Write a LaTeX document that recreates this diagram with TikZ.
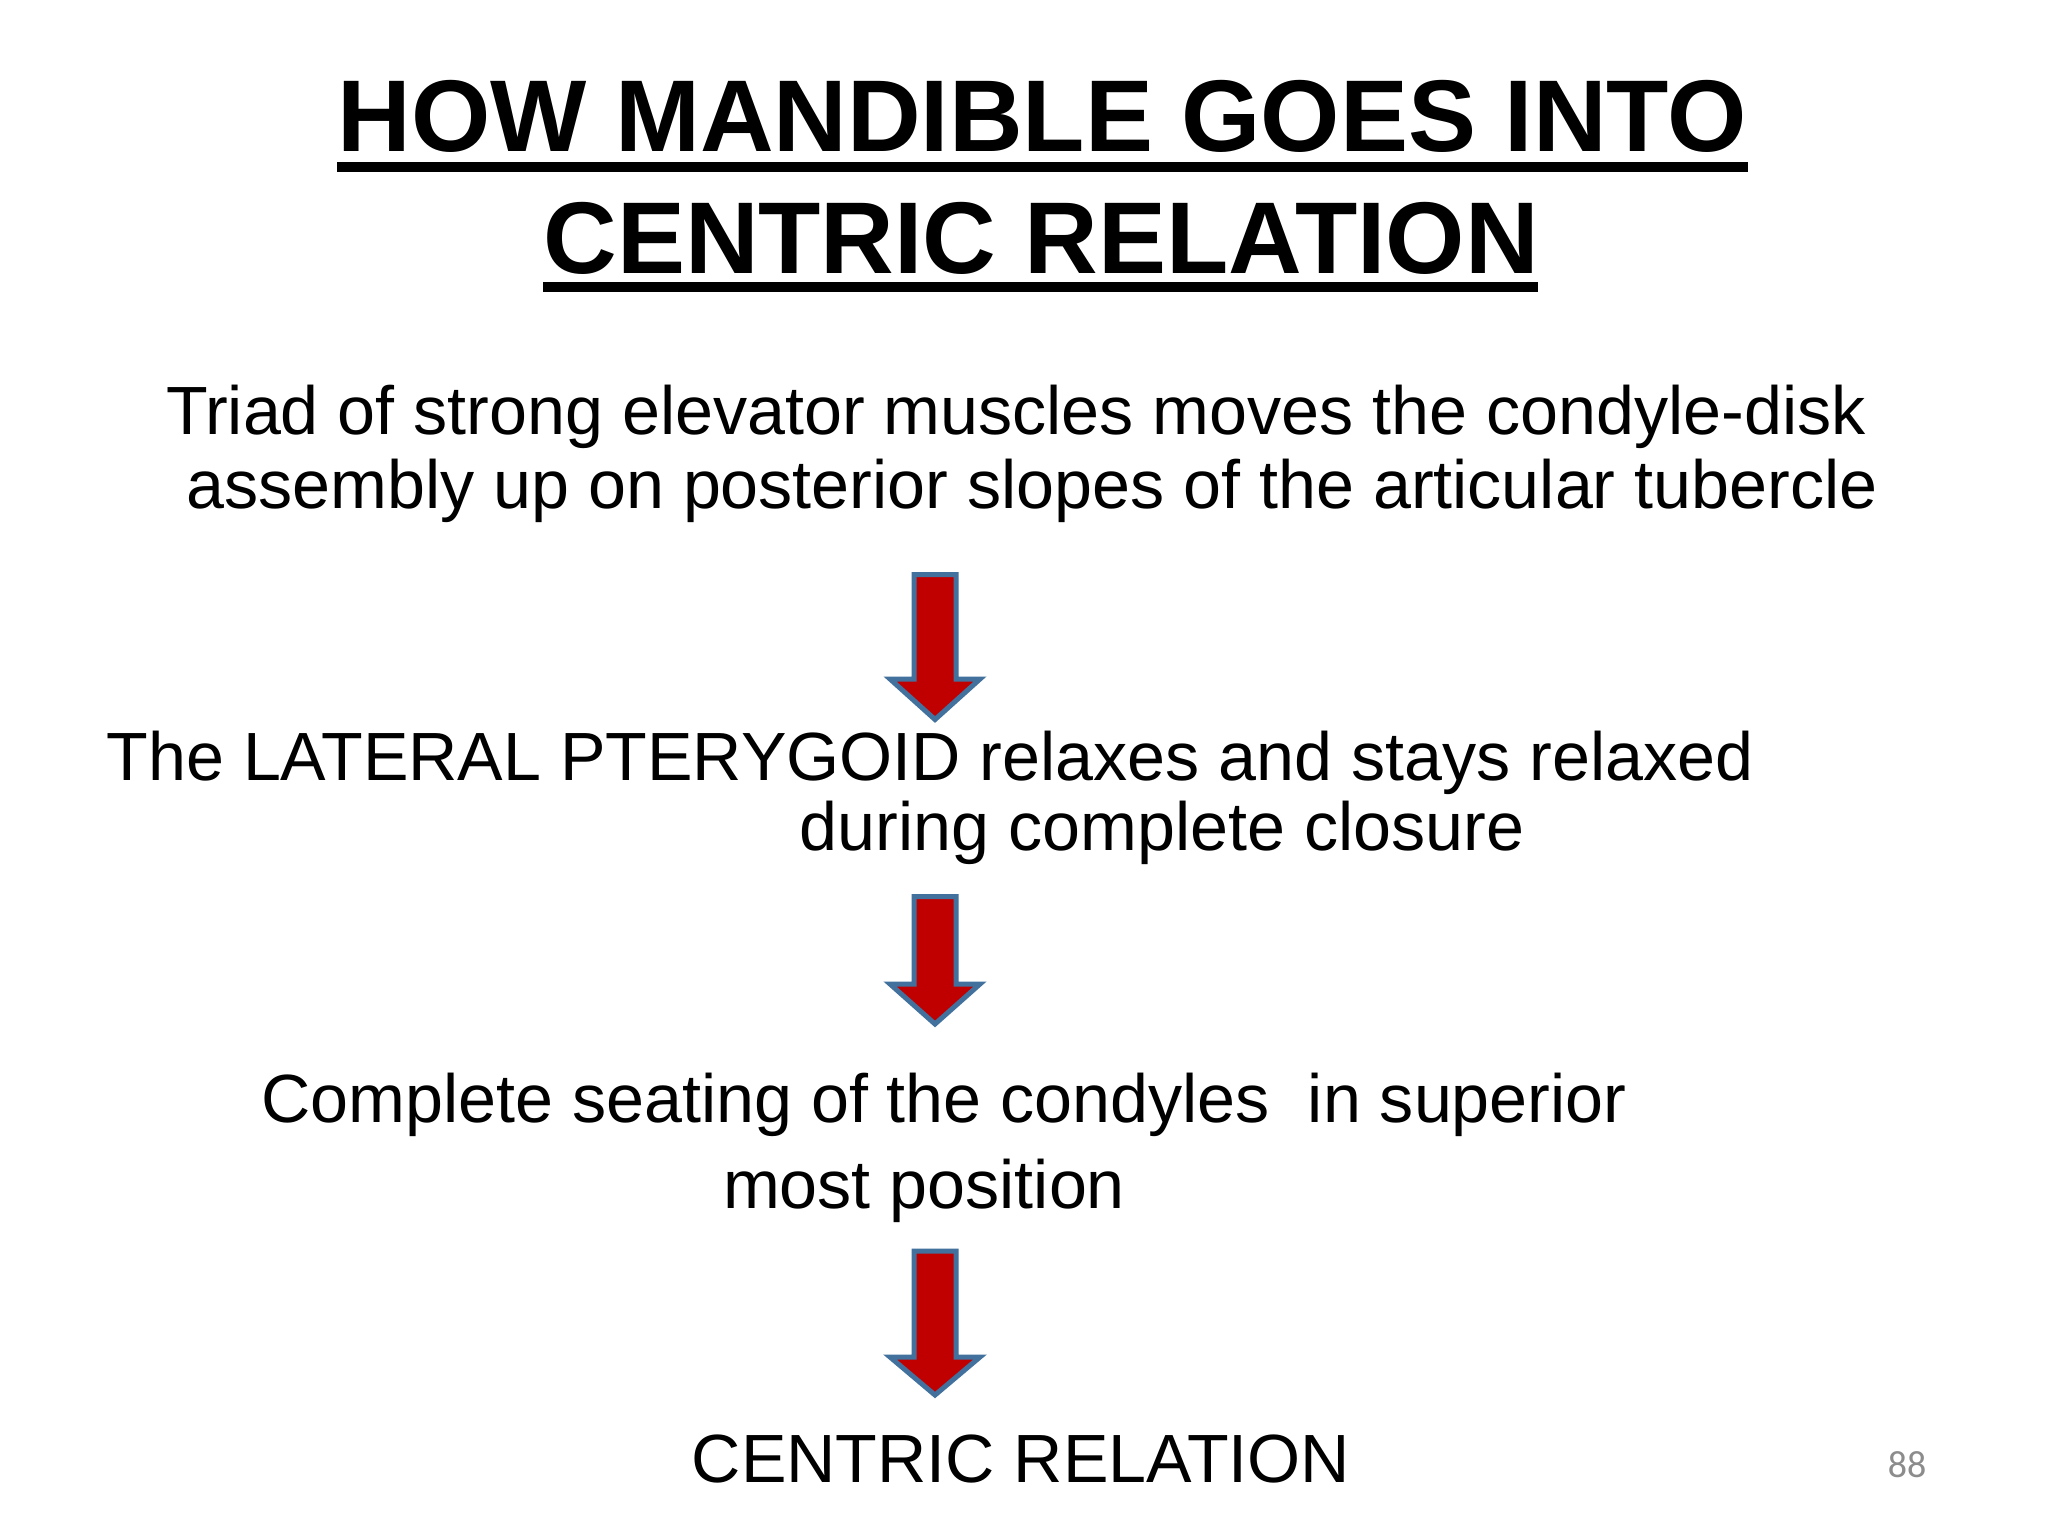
\documentclass[tikz,border=0pt]{standalone}
\usepackage{fontspec}
\setmainfont{Liberation Sans}
\newfontfamily\pagefont{Carlito}
\usetikzlibrary{positioning}
\definecolor{arrowred}{HTML}{C00000}
\definecolor{arrowedge}{HTML}{41719C}
\definecolor{pagegray}{HTML}{8C8C8C}

\begin{document}
\begin{tikzpicture}[x=0.01cm,y=-0.01cm,
    every node/.style={inner sep=0pt,outer sep=0pt},
    titletext/.style={font=\fontsize{29}{32}\selectfont\bfseries,anchor=base},
    bodytext/.style={font=\fontsize{19.4}{22}\selectfont,anchor=base},
    blockarrow/.style={draw=arrowedge,fill=arrowred,line width=0.05cm,line join=miter}]
  \useasboundingbox[fill=white] (0,0) rectangle (2048,1536);
  % title
  \node[titletext] (title1) at (1042,151) {HOW MANDIBLE GOES INTO};
  \node[titletext] (title2) at (1041,273) {CENTRIC RELATION};
  \draw[line width=0.1cm] (337,167) -- (1748,167);
  \draw[line width=0.1cm] (543,287) -- (1538,287);
  % steps
  \node[bodytext] (triad1) at (1016,434) {Triad of strong elevator muscles moves the condyle-disk};
  \node[bodytext] (triad2) at (1032,508) {assembly up on posterior slopes of the articular tubercle};
  \node[bodytext] (ptery1) at (930,780) {The LATERAL PTERYGOID relaxes and stays relaxed};
  \node[bodytext] (ptery2) at (1162,850) {during complete closure};
  \node[bodytext] (seat1) at (944,1122) {Complete seating of the condyles\ \ in superior};
  \node[bodytext] (seat2) at (924,1208) {most position};
  \node[bodytext] (cr) at (1021,1482) {CENTRIC RELATION};
  \node[font=\pagefont\fontsize{10.8}{12}\selectfont,text=pagegray,anchor=base] (pagenum) at (1907,1477) {88};
  % arrows
  \draw[blockarrow] (914,574.5) -- (956,574.5) -- (956,679) -- (980,679) -- (935,719.5) -- (890,679) -- (914,679) -- cycle;
  \draw[blockarrow] (914,896.5) -- (956,896.5) -- (956,984) -- (980,984) -- (935,1024) -- (890,984) -- (914,984) -- cycle;
  \draw[blockarrow] (914,1251) -- (956,1251) -- (956,1357) -- (980,1357) -- (935,1395) -- (890,1357) -- (914,1357) -- cycle;
\end{tikzpicture}
\end{document}
